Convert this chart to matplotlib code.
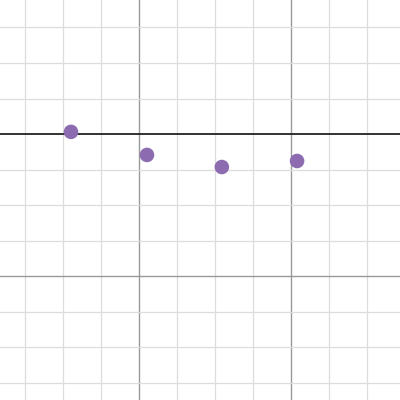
import matplotlib
matplotlib.use("Agg")
import matplotlib.pyplot as plt
import numpy as np

xs = [-1.79, 0.21, 2.18, 4.16]
ys = [0.06, -0.59, -0.93, -0.76]

fig = plt.figure(figsize=(4, 4), dpi=100)
ax = fig.add_axes([0, 0, 1, 1])
xmin, xmax = -139/38, (400-139)/38
ymin, ymax = -(400-134)/35.5, 134/35.5
ax.set_xlim(xmin, xmax)
ax.set_ylim(ymin, ymax)
for v in np.arange(-4, 8):
    major = (v % 4 == 0)
    ax.axvline(v, color="#999999" if major else "#dddddd", lw=1.0 if major else 0.9, zorder=0)
for v in np.arange(-8, 5):
    if v == 0:
        ax.axhline(0, color="#222222", lw=1.3, zorder=1)
        continue
    major = (v % 4 == 0)
    ax.axhline(v, color="#999999" if major else "#dddddd", lw=1.0 if major else 0.9, zorder=0)
ax.scatter(xs, ys, s=110, color="#8c6bb1", zorder=3, edgecolors="none")
ax.set_axis_off()
fig.savefig("out.png", dpi=100)
